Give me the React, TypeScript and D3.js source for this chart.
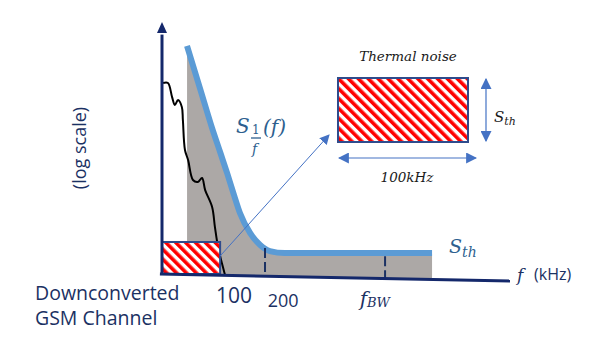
import React from "react";
import * as d3 from "d3";

const W = 600;
const H = 351;

// Abstract coordinates: position along the frequency axis (0..100) and PSD level (0..100, log scale)
const flickerX = [7.2, 10.9, 14.4, 16.7, 18.7, 20.7, 22.4, 25.3, 28.2, 31.0, 35.3, 77.6];
const flickerY = [90.5, 73.8, 57.9, 48.4, 40.1, 31.3, 24.2, 16.3, 11.5, 9.1, 8.3, 8.3];

const gsmX = [0.3, 1.7, 2.9, 3.7, 4.6, 5.7, 6.0, 6.6, 7.5, 8.9, 10.3, 11.5, 12.4, 14.4, 15.2, 16.1, 17.2, 18.1];
const gsmY = [75.8, 75.8, 70.2, 67.1, 69.0, 66.3, 61.1, 49.2, 45.2, 37.3, 36.5, 38.1, 33.3, 26.6, 18.7, 10.7, 4.4, -0.4];

const tickLabels = ["100", "200"];
const tickLabelPos = [20.7, 34.8];
const tickLabelSize = [21, 18];
const dashPos = [29.6, 64.1];
const dashTop = [10.3, 7.0];
const bwLabelPos = 56.8;

const channelWidth = 16.7; // downconverted GSM channel
const channelLevel = 12.7;
const axisEndX = 100;
const axisDrop = 2.8; // slight tilt of the drawn frequency axis

const NAVY = "#1b3163";
const AXIS = "#14286b";
const BLUE = "#5b9bd5";
const ARROW = "#4472c4";
const LABEL = "#2e5f8f";
const MATH = "DejaVu Serif, serif";
const SANS = "Open Sans, sans-serif";

export default function App() {
  const x = d3.scaleLinear().domain([0, 100]).range([162, 510]);
  const y = d3.scaleLinear().domain([0, 100]).range([274, 22]);
  const base = (v: number) => (-axisDrop * v) / axisEndX;

  const flicker = flickerX.map((v, i) => [v, flickerY[i]] as [number, number]);
  const gsm = gsmX.map((v, i) => [v, gsmY[i]] as [number, number]);

  const area = d3
    .area<[number, number]>()
    .x((d) => x(d[0]))
    .y0((d) => y(base(d[0])))
    .y1((d) => y(d[1]) + 1)
    .curve(d3.curveMonotoneX);
  const line = d3
    .line<[number, number]>()
    .x((d) => x(d[0]))
    .y((d) => y(d[1]))
    .curve(d3.curveMonotoneX);
  const gsmLine = d3
    .line<[number, number]>()
    .x((d) => x(d[0]))
    .y((d) => y(d[1]))
    .curve(d3.curveCatmullRom);

  // inset geometry
  const ix0 = 338, ix1 = 468, iy0 = 78, iy1 = 142;

  return (
    <svg width={W} height={H} style={{ display: "block", position: "absolute", left: 0, top: 0 }}>
      <defs>
        <pattern id="hatch" width="7" height="7" patternUnits="userSpaceOnUse" patternTransform="rotate(-45)">
          <rect width="7" height="7" fill="#ffffff" />
          <rect width="3.6" height="7" fill="#ff0000" />
        </pattern>
        <marker id="ah" viewBox="0 0 10 10" refX="9" refY="5" markerWidth="10" markerHeight="10" markerUnits="userSpaceOnUse" orient="auto-start-reverse">
          <path d="M0,0 L10,5 L0,10 z" fill={ARROW} />
        </marker>
        <marker id="ah2" viewBox="0 0 10 10" refX="9" refY="5" markerWidth="11" markerHeight="11" markerUnits="userSpaceOnUse" orient="auto-start-reverse">
          <path d="M0,0 L10,5 L0,10 z" fill={ARROW} />
        </marker>
      </defs>
      <rect width={W} height={H} fill="#fff" />

      {/* gray noise area and 1/f curve */}
      <path d={area(flicker) ?? ""} fill="#aca8a6" />
      <path d={line(flicker) ?? ""} fill="none" stroke={BLUE} strokeWidth={6} />

      {/* GSM channel spectrum */}
      <path d={gsmLine(gsm) ?? ""} fill="none" stroke="#000" strokeWidth={2} />

      {/* dashed ticks */}
      {dashPos.map((p, i) => (
        <line key={i} x1={x(p)} x2={x(p)} y1={y(dashTop[i])} y2={y(base(p))} stroke={NAVY} strokeWidth={2} strokeDasharray="10,4" />
      ))}

      {/* hatched channel box */}
      <rect
        x={x(0)}
        y={y(channelLevel)}
        width={x(channelWidth) - x(0)}
        height={y(0) - y(channelLevel)}
        fill="url(#hatch)"
        stroke="#2f4b8c"
        strokeWidth={2}
      />

      {/* axes */}
      <line x1={x(-0.6)} y1={y(base(0))} x2={x(axisEndX)} y2={y(base(axisEndX))} stroke={AXIS} strokeWidth={3} />
      <line x1={x(0)} y1={y(-0.4)} x2={x(0)} y2={y(95)} stroke={AXIS} strokeWidth={3} />
      <path d={`M${x(0) - 5},${y(96) + 1} L${x(0)},${y(100)} L${x(0) + 5},${y(96) + 1} Z`} fill={AXIS} />

      {/* pointer to inset */}
      <line x1={x(channelWidth)} y1={256} x2={329} y2={135} stroke={ARROW} strokeWidth={1} markerEnd="url(#ah)" />

      {/* inset: thermal noise */}
      <text x={408} y={61} textAnchor="middle" fontFamily={MATH} fontStyle="italic" fontSize={13.5} fill="#1a1a1a">
        Thermal noise
      </text>
      <rect x={ix0} y={iy0} width={ix1 - ix0} height={iy1 - iy0} fill="url(#hatch)" stroke="#2f4b8c" strokeWidth={2} />
      <line x1={486} y1={iy0 + 1} x2={486} y2={iy1 - 1} stroke={ARROW} strokeWidth={1.2} markerStart="url(#ah2)" markerEnd="url(#ah2)" />
      <line x1={ix0 + 1} y1={158} x2={476} y2={158} stroke={ARROW} strokeWidth={1.2} markerStart="url(#ah2)" markerEnd="url(#ah2)" />
      <text x={494} y={122} fontFamily={MATH} fontStyle="italic" fontSize={15} fill="#1a1a1a">
        S<tspan fontSize={11} dy={3}>th</tspan>
      </text>
      <text x={407} y={182} textAnchor="middle" fontFamily={MATH} fontStyle="italic" fontSize={13.5} fill="#1a1a1a">
        100kHz
      </text>

      {/* S_1/f(f) label */}
      <text x={236} y={133} fontFamily={MATH} fontStyle="italic" fontSize={20} fill={LABEL}>S</text>
      <text x={252} y={134} fontFamily={MATH} fontSize={12} fill={LABEL}>1</text>
      <line x1={251} x2={261} y1={138} y2={138} stroke={LABEL} strokeWidth={1.3} />
      <text x={252} y={154} fontFamily={MATH} fontStyle="italic" fontSize={14} fill={LABEL}>f</text>
      <text x={263} y={134} fontFamily={MATH} fontStyle="italic" fontSize={20} fill={LABEL}>(f)</text>

      {/* S_th label */}
      <text x={449} y={253} fontFamily={MATH} fontStyle="italic" fontSize={19} fill={LABEL}>
        S<tspan fontSize={14} dy={4}>th</tspan>
      </text>

      {/* axis labels */}
      <text x={517} y={281} fontFamily={MATH} fontStyle="italic" fontSize={17} fill={NAVY}>f</text>
      <text x={534} y={280} fontFamily={SANS} fontSize={16} fill={NAVY}>(kHz)</text>
      <text transform={`translate(86,148) rotate(-90)`} textAnchor="middle" fontFamily={SANS} fontSize={18} fill={NAVY}>
        (log scale)
      </text>

      {tickLabels.map((t, i) => (
        <text key={t} x={x(tickLabelPos[i])} y={i === 0 ? 303 : 307} textAnchor="middle" fontFamily={SANS} fontSize={tickLabelSize[i]} fill={NAVY}>
          {t}
        </text>
      ))}
      <text x={x(bwLabelPos)} y={306} fontFamily={MATH} fontStyle="italic" fontSize={20} fill={NAVY}>
        f<tspan fontSize={13} dy={1}>BW</tspan>
      </text>

      <text x={35} y={300} fontFamily={SANS} fontSize={19.5} fill={NAVY}>Downconverted</text>
      <text x={35} y={325} fontFamily={SANS} fontSize={19.5} fill={NAVY}>GSM Channel</text>
    </svg>
  );
}
